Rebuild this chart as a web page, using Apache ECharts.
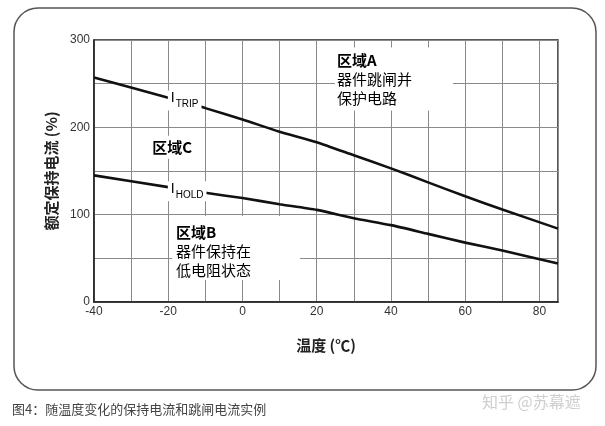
<!DOCTYPE html>
<html><head><meta charset="utf-8">
<script src="https://cdn.jsdelivr.net/npm/echarts@6/dist/echarts.min.js"></script>
<style>html,body{margin:0;padding:0;background:#fff}#c{width:605px;height:426px}</style>
</head><body><div id="c"></div>
<script>
// Data (temperature °C, percent of rated hold current)
const tripTemps  = [-40, -20, -10, 0, 10, 20, 30, 40, 50, 60, 70, 85];
const tripValues = [257, 234, 222, 209, 195, 183, 168, 153, 137, 121, 106, 84];
const holdTemps  = [-40, -20, -10, 0, 10, 20, 30, 40, 50, 60, 70, 85];
const holdValues = [145, 131.5, 125, 119, 112, 105.5, 96, 88, 78, 68, 59, 44];
const xTickLabels = [-40, -20, 0, 20, 40, 60, 80];
const yTickLabels = [0, 100, 200, 300];
const xAxisTitle = '温度 (℃)';
const yAxisTitle = '额定保持电流 (%)';
const caption = '图4：随温度变化的保持电流和跳闸电流实例';
const watermark = '知乎 @苏幕遮';

const FONT = '"Liberation Sans", "Noto Sans CJK SC", sans-serif';
const CJK = '"Noto Sans CJK SC", "Liberation Sans", sans-serif';

const chart = echarts.init(document.getElementById('c'), null, {renderer: 'canvas'});
const zip = (a, b) => a.map((v, i) => [v, b[i]]);

const option = {
  backgroundColor: '#fff',
  animation: false,
  grid: {left: 94, right: 47, top: 40, bottom: 124, show: true, backgroundColor: 'transparent', borderColor: '#222', borderWidth: 1.5},
  xAxis: {
    type: 'value', min: -40, max: 85, interval: 10,
    axisLine: {show: true, onZero: false, lineStyle: {color: '#222', width: 1.5}},
    axisTick: {show: false},
    splitLine: {show: true, lineStyle: {color: '#8a8a8a', width: 1, type: 'solid'}},
    axisLabel: {color: '#333', fontFamily: FONT, fontSize: 12, margin: 4,
      formatter: v => xTickLabels.includes(v) ? String(v) : ''},
    name: xAxisTitle, nameLocation: 'middle', nameGap: 36,
    nameTextStyle: {fontFamily: CJK, fontSize: 15, fontWeight: 'bold', color: '#222'}
  },
  yAxis: {
    type: 'value', min: 0, max: 300, interval: 50,
    axisLine: {show: true, onZero: false, lineStyle: {color: '#222', width: 1.5}},
    axisTick: {show: false},
    splitLine: {show: true, lineStyle: {color: '#8a8a8a', width: 1, type: 'solid'}},
    axisLabel: {color: '#333', fontFamily: FONT, fontSize: 12, margin: 4,
      formatter: v => yTickLabels.includes(v) ? String(v) : ''},
    name: yAxisTitle, nameLocation: 'middle', nameGap: 30, nameRotate: 90,
    nameTextStyle: {fontFamily: CJK, fontSize: 15, fontWeight: 'bold', color: '#222'}
  },
  series: [
    {type: 'line', name: 'ITRIP', data: zip(tripTemps, tripValues), symbol: 'none', smooth: 0.2,
     lineStyle: {color: '#111', width: 2.6}, z: 2},
    {type: 'line', name: 'IHOLD', data: zip(holdTemps, holdValues), symbol: 'none', smooth: 0.2,
     lineStyle: {color: '#111', width: 2.6}, z: 2}
  ]
};
chart.setOption(option);

// annotations anchored in data coordinates (text top-left)
const notes = [
  {at: [25.46, 288], text: '{b|区域A}\n{n|器件跳闸并}\n{n|保护电路}', padding: [3, 41, 3, 2]},
  {at: [-19.3, 241], text: '{i|I}{s|TRIP}', padding: [1, 3, 1, 3]},
  {at: [-24.3, 188], text: '{b|区域C}', padding: [2, 4, 2, 4]},
  {at: [-19.3, 137], text: '{i|I}{s|HOLD}', padding: [1, 3, 1, 3]},
  {at: [-17.9, 90.5], text: '{b|区域B}\n{n|器件保持在}\n{n|低电阻状态}', padding: [7, 49, 0, 4]}
];
const rich = {
  b: {fontFamily: CJK, fontSize: 15, fontWeight: 'bold', color: '#1a1a1a', lineHeight: 19},
  n: {fontFamily: CJK, fontSize: 15, color: '#606060', lineHeight: 19},
  i: {fontFamily: FONT, fontSize: 14, color: '#222', lineHeight: 18, verticalAlign: 'top'},
  s: {fontFamily: FONT, fontSize: 10, color: '#333', lineHeight: 18, verticalAlign: 'bottom', padding: [9, 0, 0, 1]}
};
const graphics = notes.map(n => {
  const p = chart.convertToPixel({gridIndex: 0}, n.at);
  return {type: 'text', x: p[0] - n.padding[3], y: p[1] - n.padding[0], z: 100,
    style: {text: n.text, rich: rich, backgroundColor: '#fff', padding: n.padding, align: 'left', verticalAlign: 'top'}};
});
graphics.push({type: 'rect', z: -10, silent: true, shape: {x: 14, y: 8, width: 582, height: 382, r: 24},
  style: {fill: 'transparent', stroke: '#555', lineWidth: 1.5}});
graphics.push({type: 'text', x: 12, y: 403, z: 10,
  style: {text: caption, fontFamily: CJK, fontSize: 13, fill: '#444'}});
graphics.push({type: 'text', x: 482, y: 394, z: 10,
  style: {text: watermark, fontFamily: CJK, fontSize: 16, fill: '#cfcfcf'}});
chart.setOption({graphic: graphics});
</script></body></html>
